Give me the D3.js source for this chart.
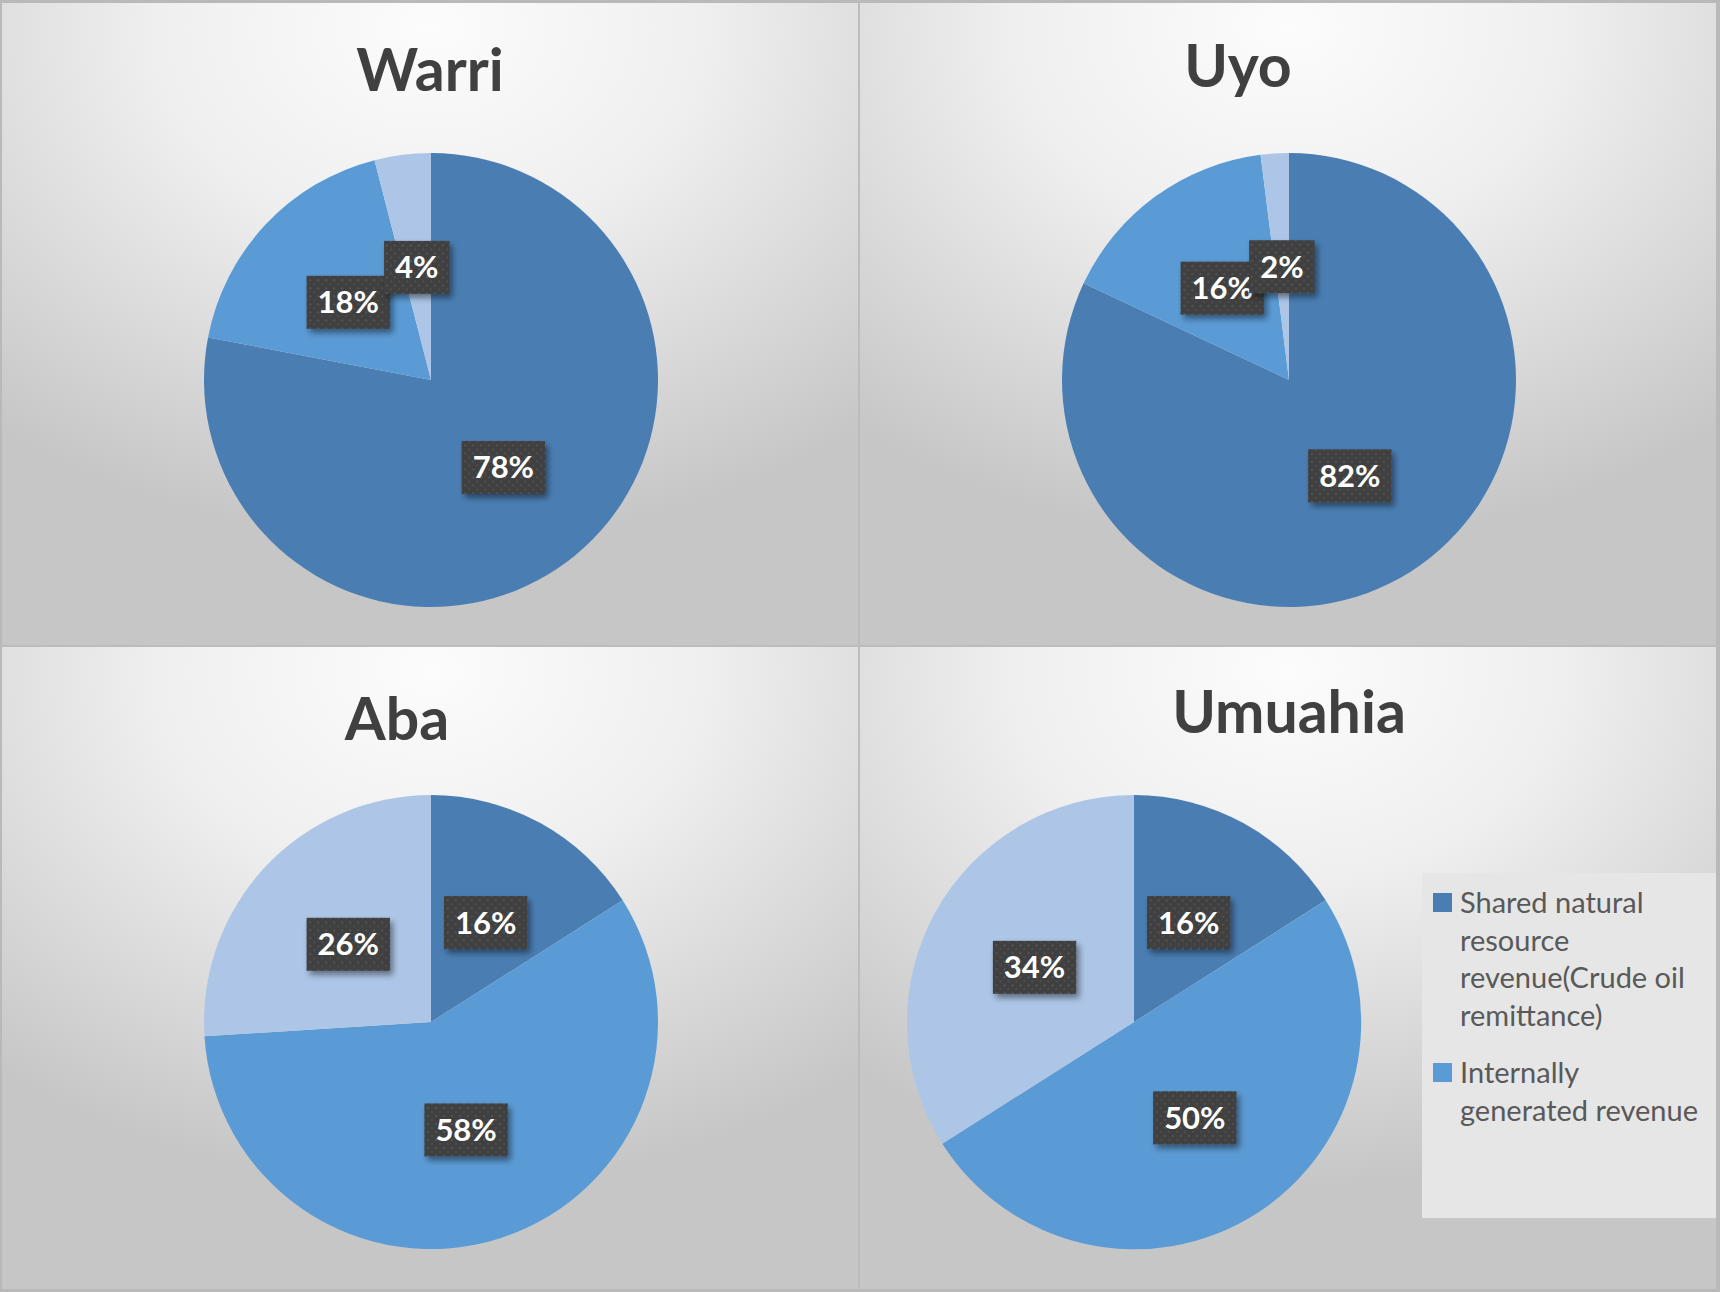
<!DOCTYPE html>
<html>
<head>
<meta charset="utf-8">
<script src="https://cdn.jsdelivr.net/npm/d3@7"></script>
<style>
  html, body { margin: 0; padding: 0; background: #ffffff; }
  svg { display: block; }
</style>
</head>
<body>
<div id="chart"></div>
<script>
// ---- data ----
let cities = ['Warri', 'Uyo', 'Aba', 'Umuahia'];
let categories = ['Shared natural resource revenue(Crude oil remittance)', 'Internally generated revenue', 'Other'];
let warri_values = [78, 18, 4];
let uyo_values = [82, 16, 2];
let aba_values = [16, 58, 26];
let umuahia_values = [16, 50, 34];
let legend_lines = [
    ['Shared natural', 'resource', 'revenue(Crude oil', 'remittance)'],
    ['Internally', 'generated revenue']
];

let all_values = [warri_values, uyo_values, aba_values, umuahia_values];
let slice_colors = ['#4a7eb3', '#5b9bd5', '#adc6e7'];

// ---- layout ----
let width = 1720, height = 1292;
let panel_w = 857, panel_h = 643;
let panels = [
    {x: 2, y: 3, cx: 429, cy: 377, tx: 428, ty: 88},
    {x: 859, y: 3, cx: 430, cy: 377, tx: 379, ty: 84},
    {x: 2, y: 646, cx: 429, cy: 376, tx: 395, ty: 94},
    {x: 859, y: 646, cx: 275, cy: 376, tx: 430, ty: 87}
];
let radius = 227;

let svg = d3.select('#chart').append('svg')
    .attr('width', width)
    .attr('height', height);

let defs = svg.append('defs');

let grad = defs.append('radialGradient')
    .attr('id', 'panel_bg')
    .attr('cx', 0.5).attr('cy', 0.04).attr('r', 0.8)
    .attr('fx', 0.5).attr('fy', 0.04);
grad.append('stop').attr('offset', '0%').attr('stop-color', '#fcfcfc');
grad.append('stop').attr('offset', '40%').attr('stop-color', '#efefef');
grad.append('stop').attr('offset', '100%').attr('stop-color', '#c6c6c6');

let pattern = defs.append('pattern')
    .attr('id', 'label_dots')
    .attr('patternUnits', 'userSpaceOnUse')
    .attr('width', 8).attr('height', 8);
pattern.append('rect').attr('width', 8).attr('height', 8).attr('fill', '#3f3f3f');
pattern.append('circle').attr('cx', 2).attr('cy', 2).attr('r', 0.9).attr('fill', '#5e5e5e');
pattern.append('circle').attr('cx', 6).attr('cy', 6).attr('r', 0.9).attr('fill', '#555555');

let shadow = defs.append('filter')
    .attr('id', 'label_shadow')
    .attr('x', '-30%').attr('y', '-30%').attr('width', '160%').attr('height', '170%');
shadow.append('feDropShadow')
    .attr('dx', 3).attr('dy', 4).attr('stdDeviation', 3)
    .attr('flood-color', '#000').attr('flood-opacity', 0.45);

// outer frame
svg.append('rect')
    .attr('x', 0).attr('y', 0).attr('width', width).attr('height', height)
    .attr('fill', '#b9b9b9');

let pie = d3.pie().sort(null).value(d => d);
let arc = d3.arc().innerRadius(0).outerRadius(radius);
let label_arc = d3.arc().innerRadius(0).outerRadius(radius);

panels.forEach(function (p, index) {
    let g = svg.append('g').attr('transform', 'translate(' + p.x + ',' + p.y + ')');

    g.append('rect')
        .attr('width', panel_w).attr('height', panel_h)
        .attr('fill', 'url(#panel_bg)');

    g.append('text')
        .text(cities[index])
        .attr('x', p.tx).attr('y', p.ty)
        .attr('text-anchor', 'middle')
        .attr('font-family', 'Lato, "Open Sans", sans-serif')
        .attr('font-weight', 'bold')
        .attr('font-size', '59px')
        .attr('fill', '#404040');

    let pie_g = g.append('g').attr('transform', 'translate(' + p.cx + ',' + p.cy + ')');
    let arcs = pie(all_values[index]);

    pie_g.selectAll('path')
        .data(arcs)
        .enter().append('path')
        .attr('d', arc)
        .attr('fill', (d, i) => slice_colors[i]);

    // data labels: dark boxes at the slice centroid
    arcs.forEach(function (d) {
        let c = label_arc.centroid(d);
        let lg = pie_g.append('g').attr('transform', 'translate(' + c[0] + ',' + c[1] + ')');
        let box = lg.append('rect').attr('fill', 'url(#label_dots)').attr('filter', 'url(#label_shadow)');
        let t = lg.append('text')
            .text(d.data + '%')
            .attr('text-anchor', 'middle')
            .attr('y', 11)
            .attr('font-family', 'Lato, "Open Sans", sans-serif')
            .attr('font-weight', 'bold')
            .attr('font-size', '31px')
            .attr('fill', '#ffffff');
        let tw = t.node().getComputedTextLength();
        let bw = tw + 22, bh = 53;
        box.attr('x', -bw / 2).attr('y', -bh / 2).attr('width', bw).attr('height', bh);
    });
});

// dividers
svg.append('line').attr('x1', 859).attr('x2', 859).attr('y1', 0).attr('y2', height)
    .attr('stroke', '#bcbcbc').attr('stroke-width', 2);
svg.append('line').attr('x1', 0).attr('x2', width).attr('y1', 646).attr('y2', 646)
    .attr('stroke', '#bcbcbc').attr('stroke-width', 2);

// legend (Umuahia panel)
let legend = svg.append('g').attr('transform', 'translate(1422,873)');
legend.append('rect')
    .attr('width', 294).attr('height', 345)
    .attr('fill', '#e6e6e6');

let line_h = 37.5;
let line_no = 0;
legend_lines.forEach(function (lines, i) {
    let top = 20 + line_no * line_h + i * 20;
    legend.append('rect')
        .attr('x', 11).attr('y', top).attr('width', 19).attr('height', 19)
        .attr('fill', slice_colors[i]);
    let t = legend.append('text')
        .attr('x', 38).attr('y', top + 20)
        .attr('font-family', 'Lato, "Open Sans", sans-serif')
        .attr('font-size', '29px')
        .attr('fill', '#595959');
    lines.forEach(function (l, j) {
        t.append('tspan').attr('x', 38).attr('dy', j === 0 ? 0 : line_h).text(l);
    });
    line_no += lines.length;
});
</script>
</body>
</html>
